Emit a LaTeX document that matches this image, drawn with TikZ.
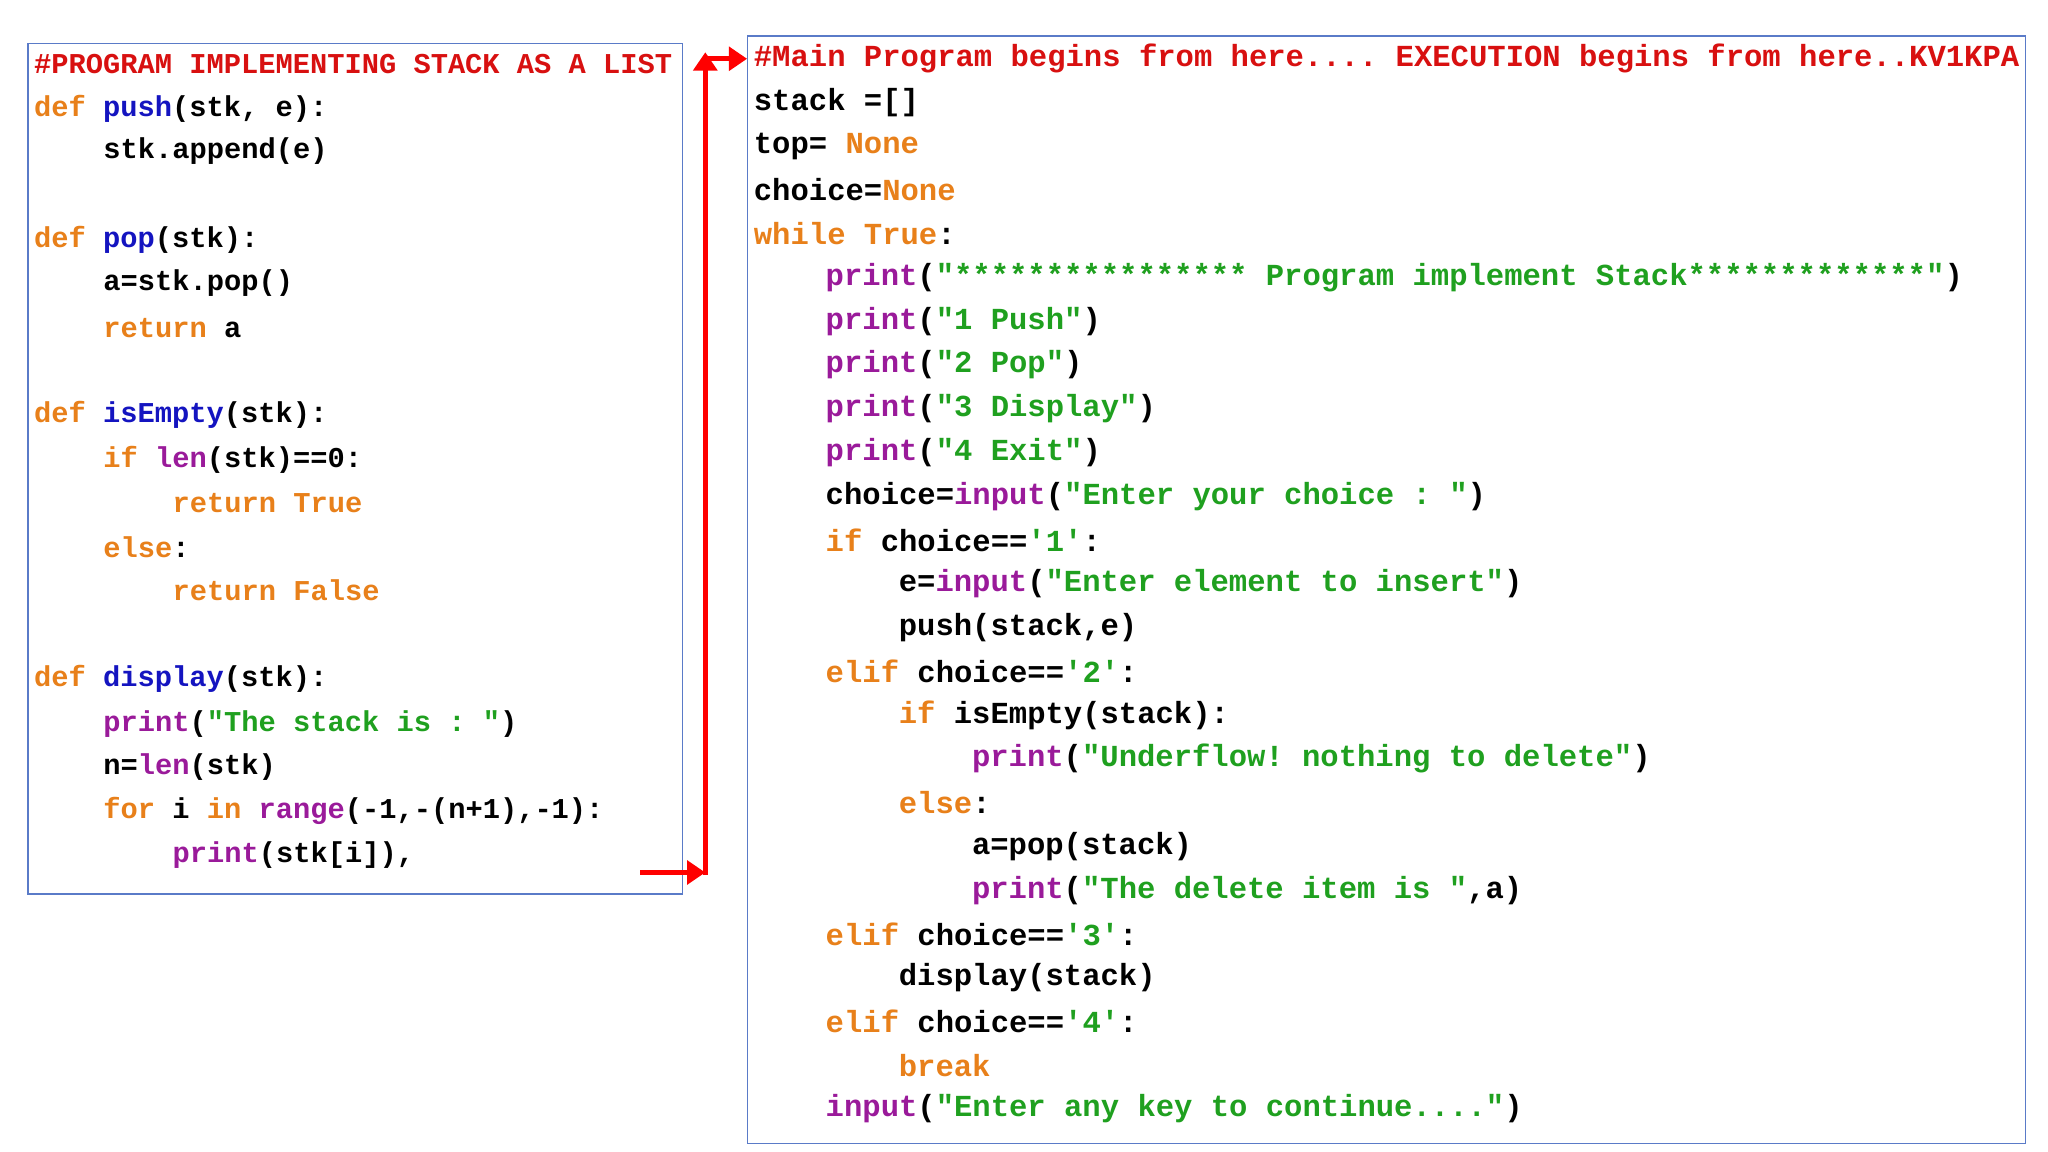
\documentclass[tikz,border=0pt]{standalone}
\usepackage{fontspec}
\setmonofont{Liberation Mono}
\usetikzlibrary{arrows.meta}
\definecolor{kw}{HTML}{E8801A}
\definecolor{fn}{HTML}{1414C0}
\definecolor{bi}{HTML}{9A1A9A}
\definecolor{st}{HTML}{1FA01F}
\definecolor{cm}{HTML}{D81010}
\definecolor{boxc}{HTML}{5A7BC8}
\newcommand\kw[1]{\textcolor{kw}{#1}}
\newcommand\fn[1]{\textcolor{fn}{#1}}
\newcommand\bi[1]{\textcolor{bi}{#1}}
\newcommand\st[1]{\textcolor{st}{#1}}
\newcommand\cm[1]{\textcolor{cm}{#1}}
\tikzset{
 lcode/.style={anchor=west,inner sep=0pt,font=\ttfamily\bfseries\fontsize{22}{26}\selectfont},
 rcode/.style={anchor=west,inner sep=0pt,font=\ttfamily\bfseries\fontsize{23.4}{28}\selectfont},
 panel/.style={draw=boxc,line width=1pt},
 flow/.style={draw=red,line width=4pt,-{Triangle[length=14pt,width=18pt]}}
}
\begin{document}
\begin{tikzpicture}[x=1pt,y=-1pt]
\useasboundingbox (0,0) rectangle (1568,882);
\fill[white] (0,0) rectangle (1568,882);
\node[panel,minimum width=501pt,minimum height=651pt,anchor=north west,inner sep=0pt] (lbox) at (21,33) {};
\node[panel,minimum width=978pt,minimum height=848pt,anchor=north west,inner sep=0pt] (rbox) at (572,27) {};
% left code
\def\LX{26}\def\LI{79}\def\LII{132}
\node[lcode] (l0) at (\LX,49) {\cm{\#PROGRAM IMPLEMENTING STACK AS A LIST}};
\node[lcode] (l1) at (\LX,83) {\kw{def} \fn{push}(stk, e):};
\node[lcode] (l2) at (\LI,116) {stk.append(e)};
\node[lcode] (l3) at (\LX,184) {\kw{def} \fn{pop}(stk):};
\node[lcode] (l4) at (\LI,217) {a=stk.pop()};
\node[lcode] (l5) at (\LI,251) {\kw{return} a};
\node[lcode] (l6) at (\LX,318) {\kw{def} \fn{isEmpty}(stk):};
\node[lcode] (l7) at (\LI,352) {\kw{if} \bi{len}(stk)==0:};
\node[lcode] (l8) at (\LII,385) {\kw{return True}};
\node[lcode] (l9) at (\LI,419) {\kw{else}:};
\node[lcode] (l10) at (\LII,452) {\kw{return False}};
\node[lcode] (l11) at (\LX,520) {\kw{def} \fn{display}(stk):};
\node[lcode] (l12) at (\LI,554) {\bi{print}(\st{"The stack is : "})};
\node[lcode] (l13) at (\LI,587) {n=\bi{len}(stk)};
\node[lcode] (l14) at (\LI,621) {\kw{for} i \kw{in} \bi{range}(-1,-(n+1),-1):};
\node[lcode] (l15) at (\LII,655) {\bi{print}(stk[i]),};
% right code
\def\RX{577}\def\RI{632}\def\RII{688}\def\RIII{744}
\node[rcode] (r0) at (\RX,45) {\cm{\#Main Program begins from here.... EXECUTION begins from here..KV1KPA}};
\node[rcode] (r1) at (\RX,78.5) {stack =[]};
\node[rcode] (r2) at (\RX,112) {top= \kw{None}};
\node[rcode] (r3) at (\RX,145.5) {choice=\kw{None}};
\node[rcode] (r4) at (\RX,179) {\kw{while True}:};
\node[rcode] (r5) at (\RI,212.5) {\bi{print}(\st{"**************** Program implement Stack*************"})};
\node[rcode] (r6) at (\RI,246) {\bi{print}(\st{"1 Push"})};
\node[rcode] (r7) at (\RI,279.5) {\bi{print}(\st{"2 Pop"})};
\node[rcode] (r8) at (\RI,313) {\bi{print}(\st{"3 Display"})};
\node[rcode] (r9) at (\RI,346.5) {\bi{print}(\st{"4 Exit"})};
\node[rcode] (r10) at (\RI,380) {choice=\bi{input}(\st{"Enter your choice : "})};
\node[rcode] (r11) at (\RI,413.5) {\kw{if} choice==\st{'1'}:};
\node[rcode] (r12) at (\RII,447) {e=\bi{input}(\st{"Enter element to insert"})};
\node[rcode] (r13) at (\RII,480.5) {push(stack,e)};
\node[rcode] (r14) at (\RI,514) {\kw{elif} choice==\st{'2'}:};
\node[rcode] (r15) at (\RII,547.5) {\kw{if} isEmpty(stack):};
\node[rcode] (r16) at (\RIII,581) {\bi{print}(\st{"Underflow! nothing to delete"})};
\node[rcode] (r17) at (\RII,614.5) {\kw{else}:};
\node[rcode] (r18) at (\RIII,648) {a=pop(stack)};
\node[rcode] (r19) at (\RIII,681.5) {\bi{print}(\st{"The delete item is "},a)};
\node[rcode] (r20) at (\RI,715) {\kw{elif} choice==\st{'3'}:};
\node[rcode] (r21) at (\RII,748.5) {display(stack)};
\node[rcode] (r22) at (\RI,782) {\kw{elif} choice==\st{'4'}:};
\node[rcode] (r23) at (\RII,815.5) {\kw{break}};
\node[rcode] (r24) at (\RI,849) {\bi{input}(\st{"Enter any key to continue...."})};
% arrows
\coordinate (a0) at (490,668);
\coordinate (a1) at (540,668);
\coordinate (a2) at (540,670);
\coordinate (a3) at (540,40);
\coordinate (a4) at (538,45);
\draw[flow] (a0) -- (a1);
\draw[flow] (a2) -- (a3);
\draw[flow] (a4) -- (rbox.north west |- a4);
\end{tikzpicture}
\end{document}
